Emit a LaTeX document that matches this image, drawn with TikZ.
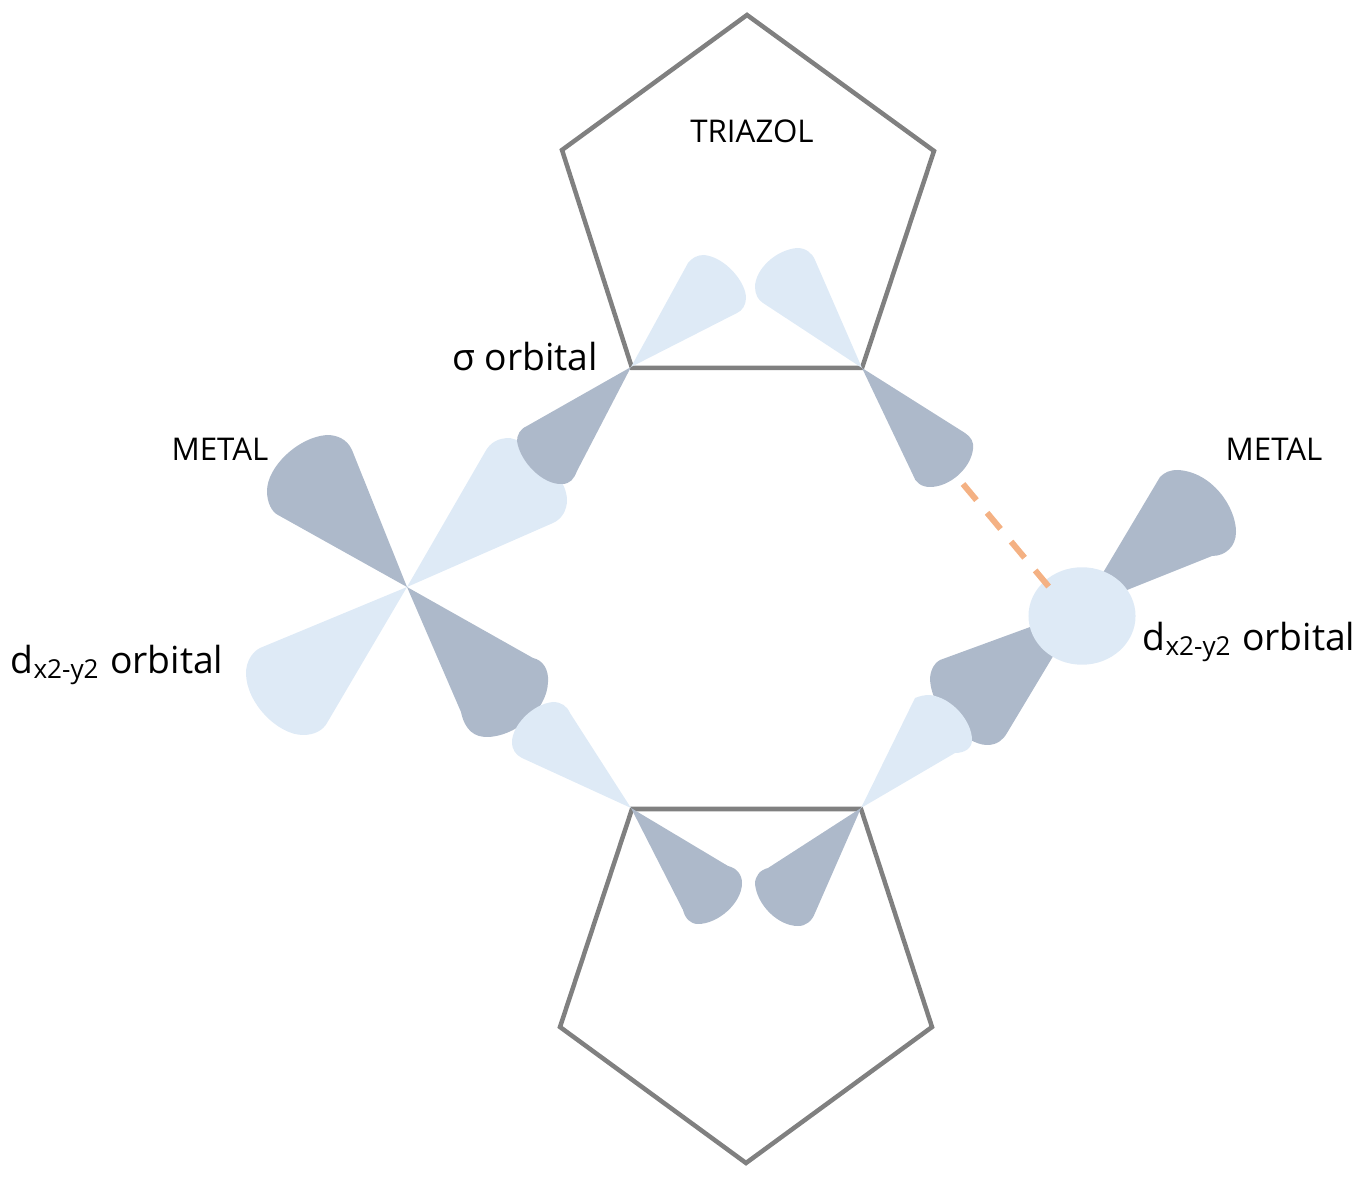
\documentclass[tikz,border=0pt]{standalone}
\usepackage{fontspec}
\setmainfont{Open Sans}
\usepackage{tikz}
\usetikzlibrary{calc}
\definecolor{lobegray}{HTML}{ADB9CA}
\definecolor{lobeblue}{HTML}{DEEAF6}
\definecolor{bondorange}{HTML}{F4B183}
\tikzset{
  ringline/.style={draw=black!50,line width=0.045cm,line join=miter},
  lobedark/.style={fill=lobegray},
  lobelight/.style={fill=lobeblue},
  bonddash/.style={draw=bondorange,line width=0.06cm,dash pattern=on 0.21cm off 0.165cm},
  biglabel/.style={font=\fontsize{10.6pt}{13pt}\selectfont,inner sep=0pt},
  smalllabel/.style={font=\fontsize{8.9pt}{11pt}\selectfont,inner sep=0pt}
}
\begin{document}
\begin{tikzpicture}[x=0.01cm,y=-0.01cm]
\useasboundingbox (0,0) rectangle (1364,1180);
% ==========================================
\draw [ringline] plot coordinates { (632,368)(862,368)(934,151)(747,15)(562,150) } -- cycle;
\draw [ringline] plot coordinates { (632,809)(861,809)(932,1027)(746,1163)(560,1027) } -- cycle;
%
\coordinate (metalL) at (407,587);
\coordinate (metalR) at (1082,608);
\coordinate (ringTL) at (631,367);
\coordinate (ringTR) at (862,368);
\coordinate (ringBL) at (631,808);
\coordinate (ringBR) at (861,808);
% =============================================
\fill [lobedark] (metalL) -- (352,450) .. controls (347,439) and (337,435) .. (327,435) .. controls (298,437) and (267,467) .. (267,491) .. controls (267,503) and (272,512) .. (278,515) -- cycle;
\fill [lobelight] (metalL) -- (485,452) .. controls (490,443) and (497,438) .. (510,438) .. controls (540,445) and (567,480) .. (567,500) .. controls (567,510) and (562,519) .. (553,523) -- cycle;
\fill [lobedark] (metalL) -- (533,658) .. controls (543,660) and (549,670) .. (548,682) .. controls (547,712) and (513,737) .. (487,737) .. controls (475,737) and (465,731) .. (461,712) -- cycle;
\fill [lobelight] (metalL) -- (260,648) .. controls (252,652) and (246,662) .. (246,673) .. controls (246,703) and (278,735) .. (303,735) .. controls (315,735) and (323,730) .. (327,723) -- cycle;
%
\fill [lobedark] (metalR) -- (1160,477) .. controls (1165,472) and (1170,470) .. (1178,470) .. controls (1212,472) and (1236,507) .. (1236,532) .. controls (1236,546) and (1226,556) .. (1212,556) -- cycle;
\fill [lobedark] (metalR) -- (940,660) .. controls (933,664) and (930,672) .. (930,680) .. controls (932,710) and (965,745) .. (987,745) .. controls (997,745) and (1003,740) .. (1007,733) -- cycle;
\fill [lobelight] (1082,616) ellipse [x radius=0.535cm,y radius=0.487cm];%Metal lobe.
% =============================================
\fill [lobelight] (ringTL) -- (688,263) .. controls (692,258) and (697,255) .. (704,255) .. controls (725,257) and (746,282) .. (746,298) .. controls (746,305) and (742,311) .. (737,313) -- cycle;
\fill [lobelight] (ringTR) -- (815,260) .. controls (812,253) and (806,248) .. (797,248) .. controls (775,250) and (755,270) .. (755,287) .. controls (755,294) and (758,300) .. (763,303) -- cycle;
\fill [lobedark] (ringTL) -- (527,426) .. controls (520,429) and (517,435) .. (517,441) .. controls (520,462) and (543,485) .. (562,484) .. controls (570,484) and (574,479) .. (577,471) -- cycle;
\fill [lobedark] (ringTR) -- (965,433) .. controls (971,437) and (974,442) .. (973,449) .. controls (971,468) and (950,487) .. (930,487) .. controls (921,487) and (915,482) .. (913,475) -- cycle;
%
\fill [lobelight] (ringBL) -- (570,713) .. controls (567,706) and (561,702) .. (553,702) .. controls (532,704) and (512,726) .. (512,742) .. controls (512,750) and (516,755) .. (522,758) -- cycle;
\fill [lobelight] (ringBR) -- (915,698) .. controls (920,696) and (924,695) .. (930,695) .. controls (953,698) and (972,722) .. (972,740) .. controls (972,748) and (965,753) .. (955,753) -- cycle;
\fill [lobedark] (ringBL) -- (728,866) .. controls (737,868) and (742,875) .. (742,883) .. controls (742,903) and (718,924) .. (698,924) .. controls (690,924) and (685,918) .. (683,910) -- cycle;
\fill [lobedark] (ringBR) -- (768,868) .. controls (760,870) and (755,876) .. (755,884) .. controls (757,905) and (778,926) .. (798,926) .. controls (806,926) and (812,921) .. (815,913) -- cycle;
% =============================================
\coordinate (bondA) at (963,484);
\coordinate (bondB) at (1049,587);
\draw [bonddash] (bondA) -- (bondB);%Bond.
%
\node [smalllabel] (triazol) at (752,131) {TRIAZOL};
\node [smalllabel] (metalleft) at (220,449) {METAL};
\node [smalllabel] (metalright) at (1274,449) {METAL};
\node [biglabel] (sigmalabel) at (525,357) {σ orbital};
\node [biglabel] (dleft) at (117,665) {d\textsubscript{x2-y2} orbital};
\node [biglabel] (dright) at (1249,642) {d\textsubscript{x2-y2} orbital};
% =============================================
\end{tikzpicture}
\end{document}
